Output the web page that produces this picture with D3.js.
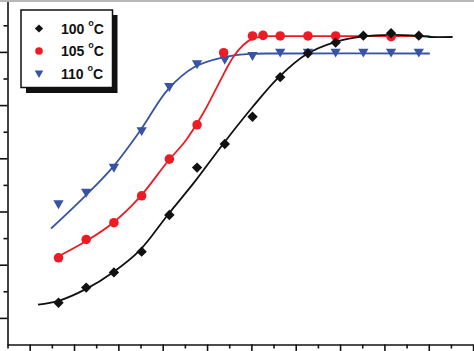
<!DOCTYPE html>
<html>
<head>
<meta charset="utf-8">
<script src="https://cdn.jsdelivr.net/npm/d3@7"></script>
<style>
  html, body { margin: 0; padding: 0; background: #fff; }
  svg { display: block; }
</style>
</head>
<body>
<svg id="chart" width="474" height="351"></svg>
<script>
// ---- data ----
const seriesNames = ["100 ", "105 ", "110 "];
const seriesColors = ["#111111", "#ed1c24", "#3953a4"];

const x100 = [10, 15, 20, 25, 30, 35, 40, 45, 50, 55, 60, 65, 70, 75];
const y100 = [15.7, 21.4, 27.1, 34.9, 48.7, 66.5, 75.4, 85.6, 100.5, 109.5, 113.5, 116.1, 117.0, 116.1];

const x105 = [10, 15, 20, 25, 30, 35, 39.8, 45, 46.9, 50, 55, 60, 70];
const y105 = [32.6, 39.5, 45.8, 55.9, 69.7, 82.6, 109.7, 116.0, 116.2, 116.0, 116.0, 116.0, 115.7];

const x110 = [10, 15, 20, 25, 30, 35, 40, 45, 50, 55, 60, 65, 70, 75];
const y110 = [53.1, 57.4, 66.8, 80.6, 97.2, 105.7, 107.4, 108.8, 110.1, 110.1, 110.1, 110.1, 110.1, 110.1];

// fitted curves
const fitX100 = [6.3, 10, 15, 19.8, 24.7, 29.7, 34.8, 39.7, 44.9, 49.8, 54.8, 59.9, 64.9, 70, 74.9, 77.0, 81.1];
const fitY100 = [15.0, 16.4, 20.9, 27.1, 35.5, 48.7, 61.8, 75.4, 89.0, 100.6, 109.2, 113.7, 115.8, 116.4, 116.0, 115.6, 115.6];

const fitX105 = [9.4, 15, 19.8, 24.7, 29.7, 33.0, 36.2, 41.5, 43.3, 45.0, 47.0, 50, 77.0];
const fitY105 = [32.5, 38.9, 45.7, 55.5, 68.8, 76.8, 87.3, 108.0, 112.5, 115.0, 115.8, 115.9, 115.9];

const fitX110 = [8.65, 14.8, 19.8, 24.7, 29.8, 34.6, 39.8, 44.0, 50.0, 77.0];
const fitY110 = [43.6, 55.8, 66.7, 80.3, 96.0, 104.4, 108.0, 109.2, 109.4, 109.4];

// axis ticks (no labels visible in the picture)
const xMajorTicks = [4.8, 12.8, 20.8, 28.8, 36.8, 44.8, 52.8, 60.8, 68.8, 76.8, 84.8];
const xMinorTicks = [0.8, 8.8, 16.8, 24.8, 32.8, 40.8, 48.8, 56.8, 64.8, 72.8, 80.8];
const yMajorTicks = [10, 30, 50, 70, 90, 110, 130];
const yMinorTicks = [20, 40, 60, 80, 100, 120];

// ---- drawing ----
const svg = d3.select("#chart");
const x = d3.scaleLinear().domain([0.8, 84.8]).range([7.5, 473.1]);
const y = d3.scaleLinear().domain([0, 130]).range([344.5, -1.3]);

function styleAxis(g) {
  g.selectAll("path, line").attr("stroke", "#111").attr("stroke-width", 1.6);
  g.selectAll("text").remove();
}
svg.append("g").attr("transform", `translate(0,${y(0)})`)
  .call(d3.axisBottom(x).tickValues(xMinorTicks).tickSize(4).tickSizeOuter(0))
  .call(styleAxis);
svg.append("g").attr("transform", `translate(0,${y(0)})`)
  .call(d3.axisBottom(x).tickValues(xMajorTicks).tickSize(8).tickSizeOuter(0))
  .call(g => g.select(".domain").remove())
  .call(styleAxis);
svg.append("g").attr("transform", `translate(${x(0.8)},0)`)
  .call(d3.axisLeft(y).tickValues(yMinorTicks).tickSize(4).tickSizeOuter(0))
  .call(styleAxis);
svg.append("g").attr("transform", `translate(${x(0.8)},0)`)
  .call(d3.axisLeft(y).tickValues(yMajorTicks).tickSize(8).tickSizeOuter(0))
  .call(g => g.select(".domain").remove())
  .call(styleAxis);

const line = d3.line().x(d => x(d[0])).y(d => y(d[1])).curve(d3.curveCatmullRom.alpha(0.5));

const fits = [
  d3.zip(fitX100, fitY100),
  d3.zip(fitX105, fitY105),
  d3.zip(fitX110, fitY110)
];
const pts = [
  d3.zip(x100, y100),
  d3.zip(x105, y105),
  d3.zip(x110, y110)
];

const symbols = [
  d3.symbol().type(d3.symbolSquare).size(54),
  d3.symbol().type(d3.symbolCircle).size(72),
  d3.symbol().type(d3.symbolTriangle).size(46)
];
const rot = [45, 0, 180];

[2, 1, 0].forEach(i => {
  svg.append("path")
    .attr("d", line(fits[i]))
    .attr("fill", "none")
    .attr("stroke", seriesColors[i])
    .attr("stroke-width", 1.8);
});
[2, 1, 0].forEach(i => {
  svg.append("g").selectAll("path").data(pts[i]).join("path")
    .attr("d", symbols[i]())
    .attr("transform", d => `translate(${x(d[0])},${y(d[1])}) rotate(${rot[i]})`)
    .attr("fill", seriesColors[i]);
});

// legend
const leg = svg.append("g");
leg.append("rect").attr("x", 26).attr("y", 15).attr("width", 91.5).attr("height", 78).attr("fill", "#111");
leg.append("rect").attr("x", 21).attr("y", 10).attr("width", 91.5).attr("height", 77.5)
  .attr("fill", "#fff").attr("stroke", "#111").attr("stroke-width", 1.5);
const legSymbols = [
  d3.symbol().type(d3.symbolSquare).size(34),
  d3.symbol().type(d3.symbolCircle).size(46),
  d3.symbol().type(d3.symbolTriangle).size(32)
];
const rowY = [28.5, 51, 73];
const baseY = [33.5, 56, 78.5];
seriesNames.forEach((name, i) => {
  leg.append("path").attr("d", legSymbols[i]())
    .attr("transform", `translate(39,${rowY[i]}) rotate(${rot[i]})`)
    .attr("fill", seriesColors[i]);
  const t = leg.append("text")
    .attr("x", 61).attr("y", baseY[i])
    .attr("font-family", "Liberation Sans, Arial, sans-serif")
    .attr("font-weight", "bold").attr("font-size", 14).attr("fill", "#111");
  t.append("tspan").text(name);
  t.append("tspan").attr("font-size", 9).attr("dy", -8).text("o");
  t.append("tspan").attr("dy", 8).text("C");
});

// top grey border
svg.append("rect").attr("x", 0).attr("y", 0).attr("width", 474).attr("height", 2).attr("fill", "#b8b8b8");
</script>
</body>
</html>
